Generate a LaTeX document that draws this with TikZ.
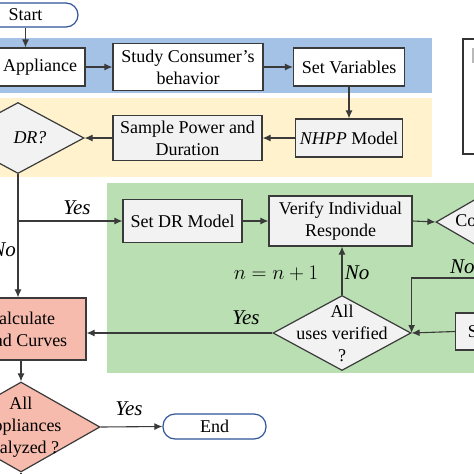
\documentclass[tikz,border=0pt]{standalone}
\usepackage{fontspec}
\setmainfont{Liberation Serif}
\usetikzlibrary{shapes.geometric, arrows.meta}
\definecolor{xblue}{HTML}{A4C2E6}
\definecolor{xyellow}{HTML}{FFF2CC}
\definecolor{xgreen}{HTML}{B9DFB2}
\definecolor{xgray}{HTML}{F2F2F2}
\definecolor{xpink}{HTML}{F6BBAD}
\definecolor{xnavy}{HTML}{2F5597}
\definecolor{xline}{HTML}{3A3A3A}

\begin{document}
\begin{tikzpicture}[x=1pt, y=-1pt,
		every node/.style={font=\fontsize{18}{22}\selectfont, align=center, inner sep=0pt},
		box/.style={draw=xline, line width=1.2pt, rectangle},
		decision/.style={draw=xline, line width=1.2pt, diamond, inner sep=0pt},
		terminal/.style={draw=xnavy, line width=1.2pt, fill=white, rectangle, rounded corners=12pt},
		answer/.style={font=\fontsize{21}{24}\selectfont\itshape},
		flow/.style={draw=xline, line width=1.1pt, -{Latex[length=8pt, width=7pt]}},
	]
		\useasboundingbox (0,0) rectangle (474,474);
		\clip (0,0) rectangle (474,474);
		% bands
		\fill[xblue] (0,38) rectangle (432,93);
		\fill[xyellow] (0,98) rectangle (432,177);
		\fill[xgreen] (107,183) rectangle (480,373);
		% legend (cut off)
		\draw[black!80, line width=1.5pt, fill=white] (463,39) rectangle (520,154);
		\fill[gray!55] (472,48) rectangle (500,63);

		\node[terminal, minimum width=105pt, minimum height=24pt] at (25.5,15) (start) {Start};
		\node[box, fill=white, minimum width=90pt, minimum height=38pt] at (40,67) (appl) {Appliance};
		\node[box, fill=white, minimum width=150pt, minimum height=47pt] at (188,67) (study) {Study Consumer’s\\behavior};
		\node[box, fill=white, minimum width=111pt, minimum height=38pt] at (349,67) (setvar) {Set Variables};
		\node[box, fill=xgray, minimum width=107pt, minimum height=38pt] at (349,138) (nhpp) {\textit{NHPP} Model};
		\node[box, fill=xgray, minimum width=149pt, minimum height=45pt] at (187.5,138) (sample) {Sample Power and\\Duration};
		\node[decision, fill=xgray, minimum width=132pt, minimum height=71pt] at (18,138) (dr) {};
		\node[font=\fontsize{18}{22}\selectfont\itshape] at (30,138) (drtext) {DR?};

		\node[box, fill=xgray, minimum width=119pt, minimum height=43pt] at (182.5,221) (setdr) {Set DR Model};
		\node[box, fill=xgray, minimum width=143pt, minimum height=50pt] at (340.5,221) (verify) {Verify Individual\\Responde};
		\node[decision, fill=xgray, minimum width=138pt, minimum height=80pt] at (505,222) (comp) {};
		\node at (505,222) (comptext) {Compliance ?};
		\node[decision, fill=xgray, minimum width=138pt, minimum height=75pt] at (342,333) (allv) {};
		\node at (342,333) (allvtext) {All\\uses verified\\?};
		\node[box, fill=xgray, anchor=west, minimum width=120pt, minimum height=37pt, inner xsep=3pt, align=left] at (455,331.5) (setuse) {Set Use\hspace*{40pt}};

		\node[box, fill=xpink, minimum width=130pt, minimum height=62pt] at (21,329) (calc) {Calculate\\Load Curves};
		\node[decision, fill=xpink, minimum width=158pt, minimum height=90pt] at (21,427) (alla) {};
		\node at (21,427) (allatext) {All\\Appliances\\analyzed ?};
		\node[terminal, minimum width=103pt, minimum height=25pt] at (214.5,426.5) (end) {End};

		\coordinate (nofeed) at (485,278);
		\coordinate (nextappl) at (21,490);

		% connectors
		\draw[flow] (start.south) -- (start.south |- appl.north);
		\draw[flow] (appl.east) -- (study.west);
		\draw[flow] (study.east) -- (setvar.west);
		\draw[flow] (setvar.south) -- (nhpp.north);
		\draw[flow] (nhpp.west) -- (sample.east);
		\draw[flow] (sample.west) -- (dr.east);
		\draw[flow] (dr.south) -- (dr.south |- calc.north);
		\draw[flow] (dr.south |- setdr.west) -- (setdr.west);
		\draw[flow] (setdr.east) -- (verify.west);
		\draw[flow] (verify.east) -- (comp.west);
		\draw[flow] (allv.north) -- (allv.north |- verify.south);
		\draw[flow] (nofeed) -| (allv.east);
		\draw[flow] (setuse.west) -- (allv.east);
		\draw[flow] (allv.west) -- (allv.west -| calc.east);
		\draw[flow] (calc.south) -- (alla.north);
		\draw[flow] (alla.east) -- (end.west);
		\draw[draw=xline, line width=1.1pt] (alla.south) -- (nextappl);

		% labels
		\node[answer] at (77,208) (yesdr) {Yes};
		\node[answer, anchor=east] at (16,250) (nodr) {No};
		\node[font=\fontsize{20}{24}\selectfont] at (276,273) (count) {$n=n+1$};
		\node[answer] at (357,273) (noall) {No};
		\node[answer] at (246,318) (yesall) {Yes};
		\node[answer, anchor=west] at (450,267) (nocomp) {No};
		\node[answer] at (129,409) (yesappl) {Yes};
	\end{tikzpicture}
\end{document}
